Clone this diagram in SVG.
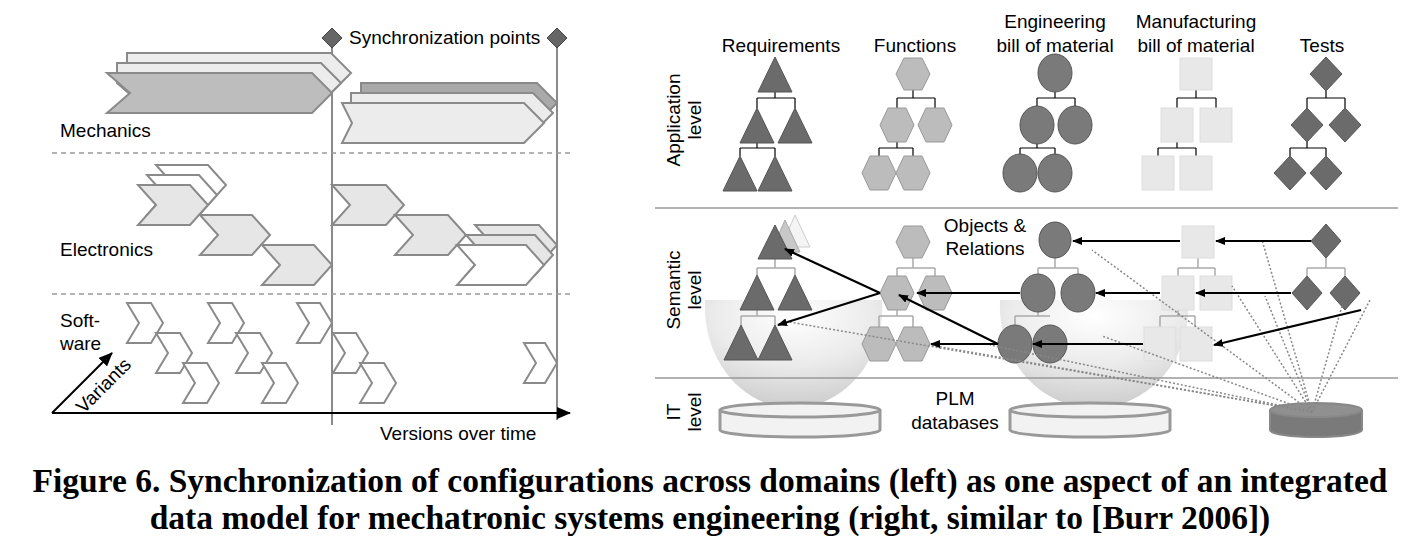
<svg xmlns="http://www.w3.org/2000/svg" width="1411" height="549" viewBox="0 0 1411 549">
<style>
text{font-family:"Liberation Sans",Arial,sans-serif;fill:#000}
.lbl{font-size:19px}
.cap{font-family:"Liberation Serif","Times New Roman",serif;font-weight:bold;font-size:33.5px}
.ch{stroke:#8a8a8a;stroke-width:2}
.sync{stroke:#8a8a8a;stroke-width:2;fill:none}
.dash{stroke:#999;stroke-width:1.5;stroke-dasharray:5 4}
.tree{stroke:#000;stroke-width:1.2;fill:none}
.stree{stroke:#aaa;stroke-width:1.5;fill:none}
.tri{fill:#6b6b6b;stroke:#555}
.hex{fill:#bcbcbc;stroke:#999}
.cir{fill:#7a7a7a;stroke:#555}
.sq{fill:#e8e8e8;stroke:#ddd}
.dia{fill:#6b6b6b;stroke:#555}
.arr{stroke:#000;stroke-width:2.2;fill:none;marker-end:url(#ah)}
.dot{stroke:#888;stroke-width:1.5;stroke-dasharray:2 2;fill:none}
</style>
<defs>
<marker id="ah" markerWidth="10" markerHeight="8" refX="9" refY="4" orient="auto" markerUnits="userSpaceOnUse"><path d="M0,0 L10,4 L0,8 z" fill="#000"/></marker>
<marker id="ah2" markerWidth="14" markerHeight="12" refX="13" refY="6" orient="auto" markerUnits="userSpaceOnUse"><path d="M0,0 L14,6 L0,12 z" fill="#000"/></marker>
<radialGradient id="bowl" cx="0.5" cy="0.15" r="0.9"><stop offset="0" stop-color="#fff"/><stop offset="0.5" stop-color="#ebebeb"/><stop offset="1" stop-color="#c8c8c8"/></radialGradient>
</defs>

<!-- LEFT PANEL -->
<g id="left-frame">
<line class="sync" x1="332" y1="38" x2="332" y2="425"/>
<line class="sync" x1="557" y1="38" x2="557" y2="420"/>
<path d="M332,28 L342,38 L332,48 L322,38 z" fill="#666" stroke="#444"/>
<path d="M557,28 L567,38 L557,48 L547,38 z" fill="#666" stroke="#444"/>
<text class="lbl" x="349" y="44">Synchronization points</text>
<line class="dash" x1="52" y1="153" x2="572" y2="153"/>
<line class="dash" x1="52" y1="294" x2="572" y2="294"/>
<line x1="52" y1="413" x2="570" y2="413" stroke="#000" stroke-width="2" marker-end="url(#ah2)"/>
<line x1="52" y1="413" x2="112" y2="353" stroke="#000" stroke-width="2" marker-end="url(#ah2)"/>
<text class="lbl" x="108" y="390" transform="rotate(-45 108 390)" text-anchor="middle">Variants</text>
<text class="lbl" x="380" y="440">Versions over time</text>
<text class="lbl" x="60" y="137">Mechanics</text>
<text class="lbl" x="60" y="256">Electronics</text>
<text class="lbl" x="60" y="327">Soft-</text>
<text class="lbl" x="60" y="350">ware</text>
</g>

<g id="mechanics-chevrons" class="ch">
<path fill="#ececec" d="M127,53 L331,53 L351,73 L331,93 L150,93 L127,73 z"/>
<path fill="#ececec" d="M117,63 L321,63 L341,83 L321,103 L140,103 L117,83 z"/>
<path fill="#bdbdbd" d="M107,73 L312,73 L332,93 L312,113 L107,113 L130,93 z"/>
<path fill="#a9a9a9" d="M361,83 L537,83 L557,103 L537,123 L384,123 L361,103 z"/>
<path fill="#ececec" d="M351,93 L533,93 L553,113 L533,133 L374,133 L351,113 z"/>
<path fill="#ececec" d="M342,103 L524,103 L544,123 L524,143 L342,143 L352,123 z"/>
</g>

<g id="electronics-chevrons" class="ch">
<path fill="#fff" d="M156,165 L208,165 L226,185 L208,205 L156,205 L174,185 z"/>
<path fill="#fff" d="M147,175 L199,175 L217,195 L199,215 L147,215 L165,195 z"/>
<path fill="#e6e6e6" d="M138,185 L190,185 L208,205 L190,225 L138,225 L156,205 z"/>
<path fill="#e6e6e6" d="M200,215 L252,215 L270,235 L252,255 L200,255 L218,235 z"/>
<path fill="#e6e6e6" d="M262,245 L314,245 L332,265 L314,285 L262,285 L280,265 z"/>
<path fill="#e6e6e6" d="M332,185 L386,185 L404,205 L386,225 L332,225 L350,205 z"/>
<path fill="#e6e6e6" d="M395,215 L448,215 L466,235 L448,255 L395,255 L413,235 z"/>
<path fill="#e6e6e6" d="M475,225 L539,225 L557,245 L539,265 L475,265 L493,245 z"/>
<path fill="#e6e6e6" d="M466,235 L535,235 L553,255 L535,275 L466,275 L484,255 z"/>
<path fill="#fff" d="M457,245 L526,245 L544,265 L526,285 L457,285 L475,265 z"/>
</g>

<g id="software-chevrons" class="ch" fill="#fff">
<path d="M127,303 L151,303 L163,323 L151,343 L127,343 L139,323 z"/>
<path d="M156,333 L180,333 L192,353 L180,373 L156,373 L168,353 z"/>
<path d="M183,363 L207,363 L219,383 L207,403 L183,403 L195,383 z"/>
<path d="M208,303 L232,303 L244,323 L232,343 L208,343 L220,323 z"/>
<path d="M236,333 L260,333 L272,353 L260,373 L236,373 L248,353 z"/>
<path d="M262,363 L286,363 L298,383 L286,403 L262,403 L274,383 z"/>
<path d="M297,303 L320,303 L332,323 L320,343 L297,343 L309,323 z"/>
<path d="M333,333 L356,333 L368,353 L356,373 L333,373 L345,353 z"/>
<path d="M360,363 L384,363 L396,383 L384,403 L360,403 L372,383 z"/>
<path d="M524,343 L545,343 L557,363 L545,383 L524,383 L536,363 z"/>
</g>

<!-- RIGHT PANEL -->
<g id="bowls">
<path d="M705,300 L882,300 C886,360 843,408 793,408 C743,408 702,360 705,300 z" fill="url(#bowl)"/>
<path d="M1000,300 L1188,300 C1192,360 1148,408 1094,408 C1040,408 997,360 1000,300 z" fill="url(#bowl)"/>
</g>

<g id="right-frame">
<line x1="655" y1="208" x2="1398" y2="208" stroke="#999" stroke-width="1.5"/>
<line x1="655" y1="378" x2="1398" y2="378" stroke="#999" stroke-width="1.5"/>
<text class="lbl" transform="translate(680,120) rotate(-90)" text-anchor="middle">Application</text>
<text class="lbl" transform="translate(701,120) rotate(-90)" text-anchor="middle">level</text>
<text class="lbl" transform="translate(680,290) rotate(-90)" text-anchor="middle">Semantic</text>
<text class="lbl" transform="translate(701,290) rotate(-90)" text-anchor="middle">level</text>
<text class="lbl" transform="translate(680,412) rotate(-90)" text-anchor="middle">IT</text>
<text class="lbl" transform="translate(701,412) rotate(-90)" text-anchor="middle">level</text>
<text class="lbl" x="781" y="52" text-anchor="middle">Requirements</text>
<text class="lbl" x="915" y="52" text-anchor="middle">Functions</text>
<text class="lbl" x="1055" y="28" text-anchor="middle">Engineering</text>
<text class="lbl" x="1055" y="52" text-anchor="middle">bill of material</text>
<text class="lbl" x="1196" y="28" text-anchor="middle">Manufacturing</text>
<text class="lbl" x="1196" y="52" text-anchor="middle">bill of material</text>
<text class="lbl" x="1322" y="52" text-anchor="middle">Tests</text>
<text class="lbl" x="985" y="232" text-anchor="middle">Objects &amp;</text>
<text class="lbl" x="985" y="255" text-anchor="middle">Relations</text>
<text class="lbl" x="955" y="405" text-anchor="middle">PLM</text>
<text class="lbl" x="955" y="429" text-anchor="middle">databases</text>
</g>

<g id="databases">
<g fill="#f2f2f2" stroke="#999" stroke-width="3">
<path d="M720,410 L720,430 A80,7 0 0 0 880,430 L880,410"/>
<ellipse cx="800" cy="410" rx="80" ry="7"/>
<path d="M1010,410 L1010,430 A80,7 0 0 0 1170,430 L1170,410"/>
<ellipse cx="1090" cy="410" rx="80" ry="7"/>
</g>
<path d="M1270,410 L1270,430 A46,7 0 0 0 1362,430 L1362,410" fill="#7a7a7a" stroke="#888" stroke-width="2"/>
<ellipse cx="1316" cy="410" rx="46" ry="7" fill="#909090" stroke="#888" stroke-width="2"/>
</g>

<!-- Application level trees -->
<g id="app-requirements">
<path class="tree" d="M775,90 V98 M757,98 H795 M757,98 V108 M795,98 V108 M757,142 V148 M740,148 H775 M740,148 V156 M775,148 V156"/>
<path class="tri" d="M775,57 L792,92 L758,92 z"/>
<path class="tri" d="M757,108 L774,143 L740,143 z"/>
<path class="tri" d="M795,108 L812,143 L778,143 z"/>
<path class="tri" d="M740,156 L757,191 L723,191 z"/>
<path class="tri" d="M775,156 L792,191 L758,191 z"/>
</g>
<g id="app-functions">
<path class="tree" d="M913,90 V98 M897,98 H935 M897,98 V108 M935,98 V108 M897,142 V148 M879,148 H913 M879,148 V156 M913,148 V156"/>
<path class="hex" d="M904,58 H922 L930,74 L922,90 H904 L896,74 z"/>
<path class="hex" d="M888,108 H906 L914,125 L906,142 H888 L880,125 z"/>
<path class="hex" d="M926,108 H944 L952,125 L944,142 H926 L918,125 z"/>
<path class="hex" d="M870,156 H888 L896,173 L888,190 H870 L862,173 z"/>
<path class="hex" d="M904,156 H922 L930,173 L922,190 H904 L896,173 z"/>
</g>
<g id="app-ebom">
<path class="tree" d="M1055,92 V98 M1037,98 H1075 M1037,98 V106 M1075,98 V106 M1037,144 V148 M1020,148 H1055 M1020,148 V154 M1055,148 V154"/>
<ellipse class="cir" cx="1055" cy="73" rx="17" ry="19"/>
<ellipse class="cir" cx="1037" cy="125" rx="17" ry="19"/>
<ellipse class="cir" cx="1075" cy="125" rx="17" ry="19"/>
<ellipse class="cir" cx="1020" cy="173" rx="17" ry="19"/>
<ellipse class="cir" cx="1055" cy="173" rx="17" ry="19"/>
</g>
<g id="app-mbom">
<path class="tree" d="M1196,90 V98 M1177,98 H1216 M1177,98 V108 M1216,98 V108 M1177,142 V148 M1158,148 H1196 M1158,148 V156 M1196,148 V156"/>
<rect class="sq" x="1180" y="58" width="32" height="32"/>
<rect class="sq" x="1161" y="108" width="32" height="34"/>
<rect class="sq" x="1200" y="108" width="32" height="34"/>
<rect class="sq" x="1142" y="156" width="32" height="34"/>
<rect class="sq" x="1180" y="156" width="32" height="34"/>
</g>
<g id="app-tests">
<path class="tree" d="M1326,90 V98 M1307,98 H1345 M1307,98 V108 M1345,98 V108 M1307,142 V148 M1290,148 H1326 M1290,148 V156 M1326,148 V156"/>
<path class="dia" d="M1326,57 L1342,74 L1326,91 L1310,74 z"/>
<path class="dia" d="M1307,108 L1323,125 L1307,142 L1291,125 z"/>
<path class="dia" d="M1345,108 L1361,125 L1345,142 L1329,125 z"/>
<path class="dia" d="M1290,156 L1306,173 L1290,190 L1274,173 z"/>
<path class="dia" d="M1326,156 L1342,173 L1326,190 L1310,173 z"/>
</g>

<!-- Semantic level trees -->
<g id="sem-requirements">
<path class="stree" d="M775,258 V268 M757,268 H795 M757,268 V275 M795,268 V275 M757,310 V316 M741,316 H775 M741,316 V325 M775,316 V325"/>
<path d="M795,215 L810,247 L781,247 z" fill="#f4f4f4" stroke="#ccc"/>
<path d="M785,220 L800,252 L771,252 z" fill="#c8c8c8" stroke="#aaa"/>
<path class="tri" d="M775,225 L792,259 L758,259 z"/>
<path class="tri" d="M757,275 L774,310 L740,310 z"/>
<path class="tri" d="M795,275 L812,310 L778,310 z"/>
<path class="tri" d="M741,325 L758,360 L724,360 z"/>
<path class="tri" d="M775,325 L792,360 L758,360 z"/>
</g>
<g id="sem-functions">
<path class="stree" d="M913,258 V268 M897,268 H935 M897,268 V276 M935,268 V276 M897,310 V316 M879,316 H913 M879,316 V327 M913,316 V327"/>
<path class="hex" d="M904,226 H922 L930,242 L922,258 H904 L896,242 z"/>
<path class="hex" d="M926,276 H944 L952,293 L944,310 H926 L918,293 z"/>
<path class="hex" d="M888,276 H906 L914,293 L906,310 H888 L880,293 z"/>
<path class="hex" d="M870,327 H888 L896,344 L888,361 H870 L862,344 z"/>
<path class="hex" d="M904,327 H922 L930,344 L922,361 H904 L896,344 z"/>
</g>
<g id="sem-ebom">
<path class="stree" d="M1055,258 V268 M1038,268 H1078 M1038,268 V274 M1078,268 V274 M1038,312 V316 M1015,316 H1050 M1015,316 V325"/>
<ellipse class="cir" cx="1055" cy="240" rx="16" ry="18"/>
<ellipse class="cir" cx="1038" cy="293" rx="17" ry="19"/>
<ellipse class="cir" cx="1078" cy="293" rx="17" ry="19"/>
<ellipse class="cir" cx="1015" cy="344" rx="17" ry="19"/>
<ellipse class="cir" cx="1050" cy="344" rx="17" ry="19"/>
</g>
<g id="sem-mbom">
<path class="stree" d="M1198,258 V268 M1178,268 H1215 M1178,268 V276 M1215,268 V276 M1178,310 V316 M1160,316 H1195 M1160,316 V327 M1195,316 V327"/>
<rect class="sq" x="1182" y="226" width="32" height="32"/>
<rect class="sq" x="1162" y="276" width="32" height="34"/>
<rect class="sq" x="1200" y="276" width="32" height="34"/>
<rect class="sq" x="1144" y="327" width="32" height="34"/>
<rect class="sq" x="1180" y="327" width="32" height="34"/>
</g>
<g id="sem-tests">
<path class="stree" d="M1326,258 V268 M1307,268 H1345 M1307,268 V276 M1345,268 V276"/>
<path class="dia" d="M1326,224 L1341,241 L1326,258 L1311,241 z"/>
<path class="dia" d="M1307,276 L1322,293 L1307,310 L1292,293 z"/>
<path class="dia" d="M1345,276 L1360,293 L1345,310 L1330,293 z"/>
</g>

<g id="connectors">
<path class="dot" d="M1312,412 L789,322"/>
<path class="dot" d="M1312,412 L930,345"/>
<path class="dot" d="M1312,412 L990,345"/>
<path class="dot" d="M1312,412 L1102,336"/>
<path class="dot" d="M1312,412 L1092,250"/>
<path class="dot" d="M1312,412 L1232,286"/>
<path class="dot" d="M1312,412 L1262,240"/>
<path class="dot" d="M1312,412 L1265,296"/>
<path class="dot" d="M1312,412 L1342,306"/>
<path class="dot" d="M1312,412 L1370,300"/>
<line class="arr" x1="1311" y1="241" x2="1216" y2="241"/>
<line class="arr" x1="1180" y1="241" x2="1073" y2="241"/>
<line class="arr" x1="1291" y1="293" x2="1196" y2="293"/>
<line class="arr" x1="1160" y1="293" x2="1096" y2="293"/>
<line class="arr" x1="1020" y1="293" x2="917" y2="293"/>
<line class="arr" x1="1361" y1="310" x2="1214" y2="345"/>
<line class="arr" x1="1143" y1="344" x2="1033" y2="344"/>
<line class="arr" x1="998" y1="344" x2="931" y2="344"/>
<line class="arr" x1="998" y1="344" x2="899" y2="295"/>
<line class="arr" x1="880" y1="293" x2="785" y2="249"/>
<line class="arr" x1="880" y1="293" x2="778" y2="325"/>
</g>

<g id="caption">
<text class="cap" x="710" y="492" text-anchor="middle">Figure 6. Synchronization of configurations across domains (left) as one aspect of an integrated</text>
<text class="cap" x="710" y="529" text-anchor="middle">data model for mechatronic systems engineering (right, similar to [Burr 2006])</text>
</g>
</svg>
